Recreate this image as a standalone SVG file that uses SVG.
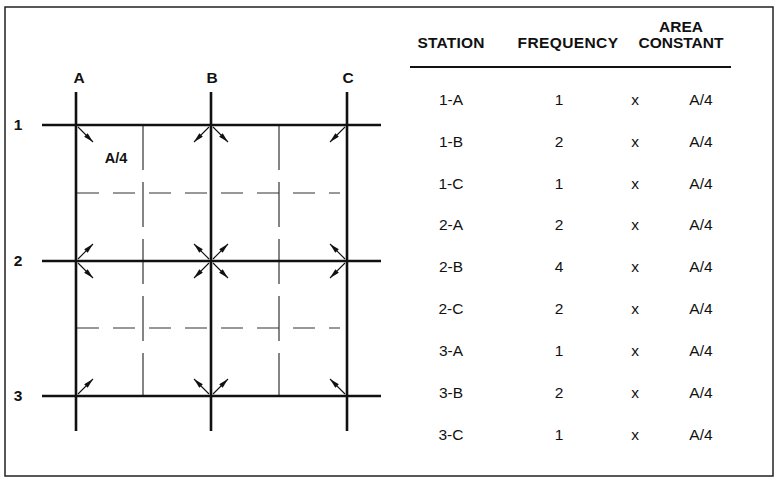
<svg xmlns="http://www.w3.org/2000/svg" width="779" height="482" viewBox="0 0 779 482">
<style>
.t{font-family:"Liberation Sans",Arial,Helvetica,sans-serif;fill:#111;}
.b{font-weight:bold;font-size:15.5px;}
.r{font-size:15.5px;text-anchor:middle;}
.m{text-anchor:middle;}
.grid{stroke:#111;stroke-width:2.6;fill:none;}
.dv{stroke:#222;stroke-width:1.1;stroke-dasharray:45 12;fill:none;}
.dh{stroke:#333;stroke-width:1.1;stroke-dasharray:22 14;fill:none;}
.arr{stroke:#111;stroke-width:1.1;fill:none;marker-end:url(#ah);}
</style>
<defs>
<marker id="ah" markerUnits="userSpaceOnUse" markerWidth="12" markerHeight="6" refX="10" refY="2.5" orient="auto">
<path d="M0,0 L10,2.5 L0,5 Z" fill="#111"/>
</marker>
</defs>
<rect x="5" y="7" width="768" height="469" fill="#fff" stroke="#222" stroke-width="1.5"/>

<g id="grid">
<line class="dv" x1="143" y1="125" x2="143" y2="396"/>
<line class="dv" x1="279" y1="125" x2="279" y2="396"/>
<line class="dh" x1="77" y1="193" x2="340" y2="193"/>
<line class="dh" x1="77" y1="328" x2="340" y2="328"/>
<line class="grid" x1="76" y1="92" x2="76" y2="431"/>
<line class="grid" x1="211" y1="92" x2="211" y2="431" stroke-width="3"/>
<line class="grid" x1="347" y1="92" x2="347" y2="431"/>
<line class="grid" x1="42" y1="125" x2="381" y2="125" stroke-width="3"/>
<line class="grid" x1="42" y1="261" x2="381" y2="261" stroke-width="3"/>
<line class="grid" x1="42" y1="396" x2="381" y2="396" stroke-width="3"/>
</g>

<g id="grid-labels" class="t b">
<text x="79" y="83" class="m">A</text>
<text x="212" y="83" class="m">B</text>
<text x="348" y="83" class="m">C</text>
<text x="18" y="130" class="m">1</text>
<text x="18" y="266" class="m">2</text>
<text x="18" y="401" class="m">3</text>
<text x="116" y="163" class="m" font-size="14.5">A/4</text>
</g>

<g id="connectors">
<line class="arr" x1="78" y1="127" x2="93" y2="142"/>
<line class="arr" x1="209" y1="127" x2="194" y2="142"/>
<line class="arr" x1="213" y1="127" x2="228" y2="142"/>
<line class="arr" x1="345" y1="127" x2="330" y2="142"/>
<line class="arr" x1="78" y1="259" x2="93" y2="244"/>
<line class="arr" x1="78" y1="263" x2="93" y2="278"/>
<line class="arr" x1="209" y1="259" x2="194" y2="244"/>
<line class="arr" x1="213" y1="259" x2="228" y2="244"/>
<line class="arr" x1="209" y1="263" x2="194" y2="278"/>
<line class="arr" x1="213" y1="263" x2="228" y2="278"/>
<line class="arr" x1="345" y1="259" x2="330" y2="244"/>
<line class="arr" x1="345" y1="263" x2="330" y2="278"/>
<line class="arr" x1="78" y1="394" x2="93" y2="379"/>
<line class="arr" x1="209" y1="394" x2="194" y2="379"/>
<line class="arr" x1="213" y1="394" x2="228" y2="379"/>
<line class="arr" x1="345" y1="394" x2="330" y2="379"/>
</g>

<g id="table-header" class="t b">
<text x="451" y="48" class="m" letter-spacing="0.2">STATION</text>
<text x="568" y="48" class="m" letter-spacing="0.4">FREQUENCY</text>
<text x="681" y="32" class="m">AREA</text>
<text x="681" y="48" class="m">CONSTANT</text>
<line x1="410" y1="67" x2="731" y2="67" stroke="#111" stroke-width="2"/>
</g>

<g id="table-rows" class="t r">
<text x="451" y="105">1-A</text><text x="559" y="105">1</text><text x="635" y="105">x</text><text x="701" y="105">A/4</text>
<text x="451" y="147">1-B</text><text x="559" y="147">2</text><text x="635" y="147">x</text><text x="701" y="147">A/4</text>
<text x="451" y="189">1-C</text><text x="559" y="189">1</text><text x="635" y="189">x</text><text x="701" y="189">A/4</text>
<text x="451" y="230">2-A</text><text x="559" y="230">2</text><text x="635" y="230">x</text><text x="701" y="230">A/4</text>
<text x="451" y="272">2-B</text><text x="559" y="272">4</text><text x="635" y="272">x</text><text x="701" y="272">A/4</text>
<text x="451" y="314">2-C</text><text x="559" y="314">2</text><text x="635" y="314">x</text><text x="701" y="314">A/4</text>
<text x="451" y="356">3-A</text><text x="559" y="356">1</text><text x="635" y="356">x</text><text x="701" y="356">A/4</text>
<text x="451" y="398">3-B</text><text x="559" y="398">2</text><text x="635" y="398">x</text><text x="701" y="398">A/4</text>
<text x="451" y="440">3-C</text><text x="559" y="440">1</text><text x="635" y="440">x</text><text x="701" y="440">A/4</text>
</g>
</svg>
